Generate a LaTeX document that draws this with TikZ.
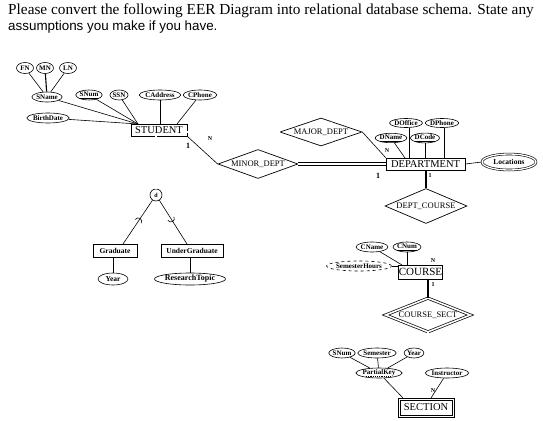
\documentclass[tikz,border=0pt]{standalone}
\usepackage{fontspec}
\setmainfont{Liberation Serif}
\newfontfamily\arialf{Liberation Sans}
\usetikzlibrary{shapes.geometric,calc}
\tikzset{
  ent/.style={draw, rectangle, inner sep=0pt, font=\fontsize{10.5}{11}\selectfont, line width=0.7pt},
  attr/.style={draw, ellipse, inner sep=0pt, font=\bfseries\fontsize{7}{8}\selectfont, line width=0.6pt},
  rel/.style={draw, diamond, inner sep=0pt, font=\fontsize{8.5}{9}\selectfont, line width=0.7pt},
  ln/.style={line width=0.6pt},
  thk/.style={line width=1.2pt},
  dbl/.style={double, double distance=1.6pt, line width=0.6pt},
  card/.style={font=\bfseries\fontsize{6}{6}\selectfont, inner sep=0pt},
  cardb/.style={font=\bfseries\fontsize{8}{8}\selectfont, inner sep=0pt},
}
\begin{document}
\begin{tikzpicture}[x=1pt,y=-1pt]
\useasboundingbox (0,0) rectangle (543,420);
% title
\node[anchor=base west, inner sep=0, font=\fontsize{15.3}{16}\selectfont] (t1) at (8,15) {Please convert the following EER Diagram into relational database schema. State any};
\node[anchor=base west, inner sep=0, font=\arialf\fontsize{13.4}{14}\selectfont] (t2) at (8,31) {assumptions you make if you have.};

% STUDENT part
\node[ent, minimum width=56pt, minimum height=12pt] (st) at (159,130) {STUDENT};
\node[attr, minimum width=17pt, minimum height=11pt] (fn) at (25,68) {FN};
\node[attr, minimum width=17pt, minimum height=11pt] (mn) at (45,68) {MN};
\node[attr, minimum width=17pt, minimum height=11pt] (lnm) at (68,68) {LN};
\node[attr, minimum width=27pt, minimum height=10pt] (sn) at (47,97) {SName};
\node[attr, minimum width=42pt, minimum height=10pt] (bd) at (48,118) {BirthDate};
\node[attr, minimum width=25pt, minimum height=10pt] (snum) at (89,95) {\underline{SNum}};
\node[attr, minimum width=18pt, minimum height=10pt] (ssn) at (119,95) {SSN};
\node[attr, minimum width=34pt, minimum height=10pt] (cad) at (160,95) {CAddress};
\node[attr, minimum width=31pt, minimum height=10pt] (cph) at (200,95) {CPhone};
\coordinate (sc) at (138,124);
\draw[ln] (fn) -- (sn);
\draw[line width=1.1pt] (mn) -- (sn);
\draw[ln] (lnm) -- (sn);
\draw[ln] (sn) -- (sc);
\draw[ln] (bd) -- (sc);
\draw[ln] (snum) -- (sc);
\draw[ln] (ssn) -- (sc);
\draw[ln] (cad) -- (cad |- st.north);
\draw[ln] (cph) -- (177,124);

% relationships student-department
\node[rel, aspect=2.9, minimum width=82pt, minimum height=28pt] (maj) at (321,132) {MAJOR\_DEPT};
\node[rel, aspect=2.8, minimum width=80pt, minimum height=29pt] (min) at (258,164) {MINOR\_DEPT};
\node[ent, minimum width=79pt, minimum height=12pt] (dep) at (425.5,164) {DEPARTMENT};
\node[attr, draw, double, double distance=1.3pt, minimum width=54pt, minimum height=16pt, font=\bfseries\fontsize{7.5}{8}\selectfont] (loc) at (509,162) {Locations};
\draw[dbl] (st.east |- maj.west) -- (maj.west);
\draw[ln] (st.south east) -- (min.west);
\draw[dbl, line width=0.9pt] (min.east) -- (dep.west |- min.east);
\draw[ln] (maj.east) -- (dep.north west);
\draw[ln] (dep.east) -- (loc.west);
\node[card] (c1) at (210,139) {N};
\node[cardb] (c2) at (188,146) {1};
\node[card] (c3) at (387,151) {N};
\node[cardb] (c4) at (378,176) {1};
\node[card] (c5) at (430,176) {1};

% department attributes
\node[attr, minimum width=31pt, minimum height=9pt] (dof) at (406,123) {DOffice};
\node[attr, minimum width=32pt, minimum height=9pt] (dph) at (442,123) {DPhone};
\node[attr, minimum width=28pt, minimum height=9pt] (dnm) at (391,138) {\underline{DName}};
\node[attr, minimum width=27pt, minimum height=9pt] (dco) at (425,138) {\underline{DCode}};
\draw[ln] (dnm) -- (405,158);
\draw[ln] (409,127.5) -- (409,158);
\draw[ln] (dco) -- (dco |- dep.north);
\draw[ln] (444,127.5) -- (444,158);

% DEPT_COURSE / COURSE
\node[rel, aspect=2.35, minimum width=82pt, minimum height=35pt] (dc) at (426,206) {DEPT\_COURSE};
\node[ent, minimum width=43pt, minimum height=14pt, font=\fontsize{11}{12}\selectfont] (co) at (420.5,272) {COURSE};
\draw[thk] (dep.south -| dc.north) -- (dc.north);
\draw[dbl, line width=0.8pt, double distance=1.2pt] (dc.south) -- (dc.south |- co.north);
\node[attr, minimum width=29pt, minimum height=10pt] (cnm) at (372,247) {CName};
\node[attr, minimum width=25pt, minimum height=10pt] (cnu) at (407,247) {\underline{CNum}};
\node[attr, dashed, minimum width=55pt, minimum height=10pt] (sh) at (359,266) {SemesterHours};
\draw[ln] (cnm) -- (402,265);
\draw[ln] (cnu) -- (cnu |- co.north);
\draw[ln] (sh.east) -- (co.west |- sh.east);
\node[card] (c6) at (433,261) {N};
\node[card] (c7) at (433,285) {1};

% COURSE_SECT / SECTION
\node[rel, aspect=2.5, double, double distance=1.6pt, minimum width=85pt, minimum height=34pt] (cs) at (428,315) {COURSE\_SECT};
\node[ent, minimum width=56pt, minimum height=19pt] (sec) at (426,407.5) {SECTION};
\draw[line width=0.7pt] ($(sec.north west)+(2.2,2.2)$) rectangle ($(sec.south east)+(-2.2,-2.2)$);
\draw[thk] (co.south -| cs.north) -- (cs.north);
\draw[dbl, line width=0.9pt, double distance=1.1pt] (cs.south) -- (cs.south |- sec.north);
\node[attr, minimum width=20pt, minimum height=10pt] (s2) at (342,353) {SNum};
\node[attr, minimum width=29pt, minimum height=10pt] (sem) at (377,353) {Semester};
\node[attr, minimum width=19pt, minimum height=10pt] (yr) at (414,353) {Year};
\node[attr, minimum width=34pt, minimum height=10pt] (pk) at (379,373) {PartialKey};
\draw[dashed, line width=0.4pt, dash pattern=on 1.2pt off 1pt] ($(pk.center)+(-13,3.4)$) -- ($(pk.center)+(13,3.4)$);
\node[attr, minimum width=30pt, minimum height=10pt] (ins) at (447,373) {Instructor};
\draw[ln] (s2) -- (pk);
\draw[ln] (sem) -- (pk);
\draw[ln] (yr) -- (pk);
\draw[ln] (pk) -- (403,398);
\draw[ln] (ins) -- (431,398);
\node[card] (c8) at (433,391) {N};

% specialization
\node[draw, circle, inner sep=0pt, minimum size=12pt, font=\bfseries\fontsize{6}{6}\selectfont, line width=0.6pt] (d) at (156,195) {d};
\draw[dbl, double distance=1.6pt] (st.south -| d.north) -- (d.north);
\node[ent, minimum width=44pt, minimum height=13pt, font=\bfseries\fontsize{7.5}{8}\selectfont] (gr) at (115,250.5) {Graduate};
\node[ent, minimum width=62pt, minimum height=13pt, font=\bfseries\fontsize{7.5}{8}\selectfont] (ug) at (192,250.5) {UnderGraduate};
\coordinate (g1) at (123,244);
\coordinate (u1) at (187,244);
\draw[ln] (d) -- (g1) node[pos=0.45, sloped, inner sep=0pt] (sub1) {\tikz\draw[line width=0.6pt] (0pt,3.5pt) arc(90:-90:3.5pt);};
\draw[ln] (d) -- (u1) node[pos=0.45, sloped, inner sep=0pt] (sub2) {\tikz\draw[line width=0.6pt] (0pt,3.5pt) arc(90:-90:3.5pt);};
\node[attr, minimum width=30pt, minimum height=12pt, font=\bfseries\fontsize{7.5}{8}\selectfont] (yr2) at (113,279) {Year};
\node[attr, minimum width=67pt, minimum height=12pt, font=\bfseries\fontsize{8}{8}\selectfont] (rt) at (190,279) {ResearchTopic};
\draw[ln] (yr2.north) -- (yr2.north |- gr.south);
\draw[ln] (rt.north) -- (rt.north |- ug.south);
\end{tikzpicture}
\end{document}
